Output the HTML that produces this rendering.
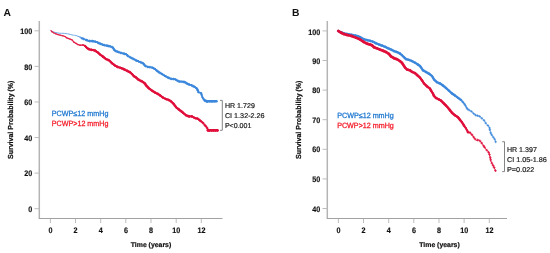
<!DOCTYPE html>
<html><head><meta charset="utf-8"><style>
html,body{margin:0;padding:0;background:#fff;width:550px;height:253px;overflow:hidden}
svg{display:block;will-change:transform}
text{font-family:"Liberation Sans",sans-serif;text-rendering:geometricPrecision}
.tk{font-size:8.0px;font-weight:bold;fill:#111;stroke:#111;stroke-width:0.15px}
.ax{font-size:6.9px;font-weight:bold;fill:#111;stroke:#111;stroke-width:0.2px}
.lab{font-size:10.3px;font-weight:bold;fill:#111}
.lg{font-size:7.6px;stroke-width:0.28px}
.hr{font-size:7.0px;fill:#222;stroke:#222;stroke-width:0.2px}
</style></head><body>
<svg width="550" height="253" viewBox="0 0 550 253">
<line x1="39.3" y1="21" x2="39.3" y2="218" stroke="#b4b4b4" stroke-width="1.5"/>
<line x1="38.6" y1="218.5" x2="222.5" y2="218.5" stroke="#a2a2a2" stroke-width="1.15"/>
<line x1="34.5" y1="30.8" x2="39.5" y2="30.8" stroke="#bdbdbd" stroke-width="1"/>
<text transform="translate(32.2,34.4) scale(0.9,1)" class="tk" text-anchor="end">100</text>
<line x1="34.5" y1="66.38" x2="39.5" y2="66.38" stroke="#bdbdbd" stroke-width="1"/>
<text transform="translate(32.2,69.5) scale(0.9,1)" class="tk" text-anchor="end">80</text>
<line x1="34.5" y1="101.96" x2="39.5" y2="101.96" stroke="#bdbdbd" stroke-width="1"/>
<text transform="translate(32.2,105.1) scale(0.9,1)" class="tk" text-anchor="end">60</text>
<line x1="34.5" y1="137.54" x2="39.5" y2="137.54" stroke="#bdbdbd" stroke-width="1"/>
<text transform="translate(32.2,140.6) scale(0.9,1)" class="tk" text-anchor="end">40</text>
<line x1="34.5" y1="173.12" x2="39.5" y2="173.12" stroke="#bdbdbd" stroke-width="1"/>
<text transform="translate(32.2,176.2) scale(0.9,1)" class="tk" text-anchor="end">20</text>
<line x1="34.5" y1="208.7" x2="39.5" y2="208.7" stroke="#bdbdbd" stroke-width="1"/>
<text transform="translate(32.2,211.8) scale(0.9,1)" class="tk" text-anchor="end">0</text>
<line x1="50.4" y1="219" x2="50.4" y2="223" stroke="#bdbdbd" stroke-width="1"/>
<text transform="translate(50.5,232.7) scale(0.9,1)" class="tk" text-anchor="middle">0</text>
<line x1="75.5" y1="219" x2="75.5" y2="223" stroke="#bdbdbd" stroke-width="1"/>
<text transform="translate(75.6,232.7) scale(0.9,1)" class="tk" text-anchor="middle">2</text>
<line x1="100.7" y1="219" x2="100.7" y2="223" stroke="#bdbdbd" stroke-width="1"/>
<text transform="translate(100.8,232.7) scale(0.9,1)" class="tk" text-anchor="middle">4</text>
<line x1="125.8" y1="219" x2="125.8" y2="223" stroke="#bdbdbd" stroke-width="1"/>
<text transform="translate(125.9,232.7) scale(0.9,1)" class="tk" text-anchor="middle">6</text>
<line x1="151.0" y1="219" x2="151.0" y2="223" stroke="#bdbdbd" stroke-width="1"/>
<text transform="translate(151.1,232.7) scale(0.9,1)" class="tk" text-anchor="middle">8</text>
<line x1="176.2" y1="219" x2="176.2" y2="223" stroke="#bdbdbd" stroke-width="1"/>
<text transform="translate(176.2,232.7) scale(0.9,1)" class="tk" text-anchor="middle">10</text>
<line x1="201.3" y1="219" x2="201.3" y2="223" stroke="#bdbdbd" stroke-width="1"/>
<text transform="translate(201.4,232.7) scale(0.9,1)" class="tk" text-anchor="middle">12</text>
<text x="151.0" y="246.6" class="ax" text-anchor="middle">Time (years)</text>
<text transform="translate(12.600000000000001,119.8) rotate(-90)" text-anchor="middle" class="ax" style="font-size:7.3px" textLength="78.4" lengthAdjust="spacingAndGlyphs">Survival Probability (%)</text>
<text x="3.6" y="15.5" class="lab">A</text>
<line x1="327.3" y1="21" x2="327.3" y2="218" stroke="#b4b4b4" stroke-width="1.5"/>
<line x1="326.6" y1="218.5" x2="507" y2="218.5" stroke="#a2a2a2" stroke-width="1.15"/>
<line x1="322.5" y1="30.9" x2="327.5" y2="30.9" stroke="#bdbdbd" stroke-width="1"/>
<text transform="translate(320.2,34.5) scale(0.9,1)" class="tk" text-anchor="end">100</text>
<line x1="322.5" y1="60.5" x2="327.5" y2="60.5" stroke="#bdbdbd" stroke-width="1"/>
<text transform="translate(320.2,63.6) scale(0.9,1)" class="tk" text-anchor="end">90</text>
<line x1="322.5" y1="90.1" x2="327.5" y2="90.1" stroke="#bdbdbd" stroke-width="1"/>
<text transform="translate(320.2,93.2) scale(0.9,1)" class="tk" text-anchor="end">80</text>
<line x1="322.5" y1="119.7" x2="327.5" y2="119.7" stroke="#bdbdbd" stroke-width="1"/>
<text transform="translate(320.2,122.8) scale(0.9,1)" class="tk" text-anchor="end">70</text>
<line x1="322.5" y1="149.3" x2="327.5" y2="149.3" stroke="#bdbdbd" stroke-width="1"/>
<text transform="translate(320.2,152.4) scale(0.9,1)" class="tk" text-anchor="end">60</text>
<line x1="322.5" y1="178.9" x2="327.5" y2="178.9" stroke="#bdbdbd" stroke-width="1"/>
<text transform="translate(320.2,182.0) scale(0.9,1)" class="tk" text-anchor="end">50</text>
<line x1="322.5" y1="208.5" x2="327.5" y2="208.5" stroke="#bdbdbd" stroke-width="1"/>
<text transform="translate(320.2,211.6) scale(0.9,1)" class="tk" text-anchor="end">40</text>
<line x1="338.4" y1="219" x2="338.4" y2="223" stroke="#bdbdbd" stroke-width="1"/>
<text transform="translate(338.5,232.7) scale(0.9,1)" class="tk" text-anchor="middle">0</text>
<line x1="363.5" y1="219" x2="363.5" y2="223" stroke="#bdbdbd" stroke-width="1"/>
<text transform="translate(363.6,232.7) scale(0.9,1)" class="tk" text-anchor="middle">2</text>
<line x1="388.7" y1="219" x2="388.7" y2="223" stroke="#bdbdbd" stroke-width="1"/>
<text transform="translate(388.8,232.7) scale(0.9,1)" class="tk" text-anchor="middle">4</text>
<line x1="413.8" y1="219" x2="413.8" y2="223" stroke="#bdbdbd" stroke-width="1"/>
<text transform="translate(413.9,232.7) scale(0.9,1)" class="tk" text-anchor="middle">6</text>
<line x1="439.0" y1="219" x2="439.0" y2="223" stroke="#bdbdbd" stroke-width="1"/>
<text transform="translate(439.1,232.7) scale(0.9,1)" class="tk" text-anchor="middle">8</text>
<line x1="464.1" y1="219" x2="464.1" y2="223" stroke="#bdbdbd" stroke-width="1"/>
<text transform="translate(464.2,232.7) scale(0.9,1)" class="tk" text-anchor="middle">10</text>
<line x1="489.3" y1="219" x2="489.3" y2="223" stroke="#bdbdbd" stroke-width="1"/>
<text transform="translate(489.4,232.7) scale(0.9,1)" class="tk" text-anchor="middle">12</text>
<text x="439.5" y="246.6" class="ax" text-anchor="middle">Time (years)</text>
<text transform="translate(300.6,119.8) rotate(-90)" text-anchor="middle" class="ax" style="font-size:7.3px" textLength="78.4" lengthAdjust="spacingAndGlyphs">Survival Probability (%)</text>
<text x="292.0" y="15.5" class="lab">B</text>
<g stroke="#3c88dc" stroke-linecap="round"><line x1="51.0" y1="30.6" x2="52.0" y2="31.4" stroke-width="1.00" stroke-opacity="0.55"/><line x1="52.0" y1="31.4" x2="54.0" y2="32.1" stroke-width="1.00" stroke-opacity="0.55"/><line x1="54.0" y1="32.1" x2="56.0" y2="32.6" stroke-width="1.00" stroke-opacity="0.56"/><line x1="56.0" y1="32.6" x2="58.0" y2="33.0" stroke-width="1.00" stroke-opacity="0.56"/><line x1="58.0" y1="33.0" x2="60.0" y2="33.3" stroke-width="1.00" stroke-opacity="0.56"/><line x1="60.0" y1="33.3" x2="63.0" y2="33.3" stroke-width="1.00" stroke-opacity="0.57"/><line x1="63.0" y1="33.3" x2="66.0" y2="33.6" stroke-width="1.00" stroke-opacity="0.57"/><line x1="66.0" y1="33.6" x2="69.0" y2="34.1" stroke-width="1.00" stroke-opacity="0.58"/><line x1="69.0" y1="34.1" x2="72.0" y2="34.9" stroke-width="1.00" stroke-opacity="0.59"/><line x1="72.0" y1="34.9" x2="76.0" y2="35.5" stroke-width="1.00" stroke-opacity="0.59"/><line x1="76.0" y1="35.5" x2="78.0" y2="36.3" stroke-width="1.00" stroke-opacity="0.60"/><line x1="78.0" y1="36.3" x2="80.0" y2="37.1" stroke-width="1.09" stroke-opacity="0.65"/><line x1="80.0" y1="37.1" x2="82.0" y2="38.3" stroke-width="1.26" stroke-opacity="0.75"/><line x1="82.0" y1="38.3" x2="86.0" y2="39.9" stroke-width="1.52" stroke-opacity="0.90"/><line x1="86.0" y1="39.9" x2="89.0" y2="41.0" stroke-width="1.70"/><line x1="89.0" y1="41.0" x2="93.0" y2="41.2" stroke-width="1.70"/><line x1="93.0" y1="41.2" x2="96.0" y2="41.8" stroke-width="1.70"/><line x1="96.0" y1="41.8" x2="100.0" y2="43.6" stroke-width="1.70"/><line x1="100.0" y1="43.6" x2="103.8" y2="45.1" stroke-width="1.70"/><line x1="103.8" y1="45.1" x2="106.0" y2="45.5" stroke-width="1.70"/><line x1="106.0" y1="45.5" x2="110.0" y2="46.3" stroke-width="1.70"/><line x1="110.0" y1="46.3" x2="113.0" y2="47.6" stroke-width="1.70"/><line x1="113.0" y1="47.6" x2="114.5" y2="50.4" stroke-width="1.70"/><line x1="114.5" y1="50.4" x2="117.0" y2="51.6" stroke-width="1.70"/><line x1="117.0" y1="51.6" x2="121.0" y2="52.9" stroke-width="1.70"/><line x1="121.0" y1="52.9" x2="124.0" y2="53.7" stroke-width="1.70"/><line x1="124.0" y1="53.7" x2="126.0" y2="54.1" stroke-width="1.70"/><line x1="126.0" y1="54.1" x2="128.0" y2="56.1" stroke-width="1.70"/><line x1="128.0" y1="56.1" x2="131.0" y2="57.7" stroke-width="1.70"/><line x1="131.0" y1="57.7" x2="134.0" y2="59.3" stroke-width="1.70"/><line x1="134.0" y1="59.3" x2="137.0" y2="60.8" stroke-width="1.70"/><line x1="137.0" y1="60.8" x2="140.0" y2="62.0" stroke-width="1.70"/><line x1="140.0" y1="62.0" x2="143.0" y2="63.2" stroke-width="1.70"/><line x1="143.0" y1="63.2" x2="145.0" y2="65.8" stroke-width="1.70"/><line x1="145.0" y1="65.8" x2="148.0" y2="67.0" stroke-width="1.70"/><line x1="148.0" y1="67.0" x2="151.0" y2="67.3" stroke-width="1.70"/><line x1="151.0" y1="67.3" x2="153.0" y2="67.9" stroke-width="1.70"/><line x1="153.0" y1="67.9" x2="155.0" y2="69.0" stroke-width="1.70"/><line x1="155.0" y1="69.0" x2="157.0" y2="70.8" stroke-width="1.70"/><line x1="157.0" y1="70.8" x2="159.0" y2="72.3" stroke-width="1.70"/><line x1="159.0" y1="72.3" x2="162.0" y2="74.1" stroke-width="1.70"/><line x1="162.0" y1="74.1" x2="165.0" y2="75.9" stroke-width="1.70"/><line x1="165.0" y1="75.9" x2="168.0" y2="77.6" stroke-width="1.70"/><line x1="168.0" y1="77.6" x2="171.0" y2="78.8" stroke-width="1.70"/><line x1="171.0" y1="78.8" x2="175.0" y2="79.2" stroke-width="1.70"/><line x1="175.0" y1="79.2" x2="177.0" y2="80.4" stroke-width="1.70"/><line x1="177.0" y1="80.4" x2="179.0" y2="81.5" stroke-width="1.70"/><line x1="179.0" y1="81.5" x2="182.0" y2="81.6" stroke-width="1.70"/><line x1="182.0" y1="81.6" x2="185.0" y2="82.2" stroke-width="1.70"/><line x1="185.0" y1="82.2" x2="188.0" y2="84.2" stroke-width="1.70"/><line x1="188.0" y1="84.2" x2="191.0" y2="85.0" stroke-width="1.70"/><line x1="191.0" y1="85.0" x2="194.0" y2="86.6" stroke-width="1.70"/><line x1="194.0" y1="86.6" x2="197.0" y2="88.5" stroke-width="1.70"/><line x1="197.0" y1="88.5" x2="198.5" y2="92.2" stroke-width="1.70"/><line x1="198.5" y1="92.2" x2="201.0" y2="93.0" stroke-width="1.56"/><line x1="201.0" y1="93.0" x2="202.0" y2="95.9" stroke-width="1.42"/><line x1="202.0" y1="95.9" x2="203.0" y2="98.5" stroke-width="1.34"/><line x1="203.0" y1="98.5" x2="205.0" y2="100.7" stroke-width="1.82"/><line x1="205.0" y1="100.7" x2="207.0" y2="101.3" stroke-width="2.60"/><line x1="207.0" y1="101.3" x2="216.5" y2="101.3" stroke-width="2.60"/></g>
<g stroke-opacity="1.0" stroke="#3c88dc" stroke-width="1.0"><path d="M82.0 37.0V39.7M80.7 38.3H83.4"/><path d="M83.6 37.6V40.3M82.3 38.9H85.0"/><path d="M86.1 38.6V41.3M84.7 39.9H87.4"/><path d="M87.2 39.0V41.7M85.8 40.3H88.5"/><path d="M89.5 39.7V42.4M88.2 41.0H90.9"/><path d="M91.1 39.8V42.5M89.7 41.1H92.4"/><path d="M92.5 39.8V42.5M91.1 41.2H93.8"/><path d="M93.8 40.0V42.7M92.4 41.4H95.1"/><path d="M95.3 40.3V43.0M94.0 41.7H96.7"/><path d="M97.6 41.1V43.8M96.2 42.5H98.9"/><path d="M98.8 41.7V44.4M97.5 43.1H100.2"/><path d="M100.7 42.5V45.2M99.4 43.9H102.1"/><path d="M102.7 43.3V46.0M101.3 44.7H104.0"/><path d="M104.3 43.8V46.5M102.9 45.2H105.6"/><path d="M106.2 44.2V46.9M104.9 45.5H107.6"/><path d="M107.4 44.4V47.1M106.1 45.8H108.8"/><path d="M108.6 44.7V47.4M107.3 46.0H110.0"/><path d="M110.1 45.0V47.7M108.7 46.3H111.4"/><path d="M112.1 45.8V48.5M110.7 47.2H113.4"/><path d="M113.4 46.9V49.6M112.0 48.3H114.7"/><path d="M114.1 48.3V51.0M112.8 49.7H115.5"/><path d="M115.6 49.6V52.3M114.3 50.9H117.0"/><path d="M117.3 50.3V53.0M115.9 51.7H118.6"/><path d="M118.8 50.8V53.5M117.4 52.2H120.1"/><path d="M121.0 51.6V54.3M119.7 52.9H122.4"/><path d="M123.2 52.1V54.8M121.8 53.5H124.5"/><path d="M124.6 52.5V55.2M123.3 53.8H126.0"/><path d="M126.4 53.2V55.9M125.1 54.5H127.8"/><path d="M127.8 54.5V57.2M126.4 55.9H129.1"/><path d="M129.9 55.8V58.5M128.6 57.1H131.3"/><path d="M131.9 56.8V59.5M130.6 58.2H133.3"/><path d="M133.3 57.6V60.3M132.0 58.9H134.7"/><path d="M135.6 58.8V61.5M134.3 60.1H137.0"/><path d="M136.8 59.4V62.1M135.5 60.7H138.2"/><path d="M138.5 60.0V62.7M137.1 61.4H139.8"/><path d="M140.6 60.9V63.6M139.2 62.2H141.9"/><path d="M141.9 61.4V64.1M140.5 62.7H143.2"/><path d="M143.4 62.4V65.1M142.1 63.7H144.8"/><path d="M144.1 63.3V66.0M142.8 64.7H145.5"/><path d="M145.7 64.7V67.4M144.3 66.1H147.0"/><path d="M147.8 65.6V68.3M146.5 66.9H149.2"/><path d="M149.8 65.8V68.5M148.5 67.2H151.2"/><path d="M152.2 66.3V69.0M150.9 67.7H153.6"/><path d="M153.7 66.9V69.6M152.4 68.3H155.1"/><path d="M155.5 68.1V70.8M154.2 69.5H156.9"/><path d="M157.1 69.5V72.2M155.7 70.8H158.4"/><path d="M158.7 70.7V73.4M157.3 72.1H160.0"/><path d="M160.2 71.7V74.4M158.9 73.0H161.6"/><path d="M162.3 72.9V75.6M160.9 74.3H163.6"/><path d="M164.5 74.3V77.0M163.2 75.6H165.9"/><path d="M166.1 75.2V77.9M164.8 76.5H167.5"/><path d="M168.0 76.2V78.9M166.6 77.6H169.3"/><path d="M169.1 76.7V79.4M167.8 78.1H170.5"/><path d="M171.2 77.5V80.2M169.8 78.8H172.5"/><path d="M173.3 77.7V80.4M172.0 79.0H174.7"/><path d="M175.8 78.3V81.0M174.5 79.7H177.2"/><path d="M177.9 79.5V82.2M176.5 80.9H179.2"/><path d="M179.3 80.2V82.9M177.9 81.5H180.6"/><path d="M181.0 80.2V82.9M179.7 81.6H182.4"/><path d="M183.2 80.5V83.2M181.8 81.8H184.5"/><path d="M184.3 80.7V83.4M183.0 82.1H185.7"/><path d="M185.9 81.5V84.2M184.6 82.8H187.3"/><path d="M187.1 82.3V85.0M185.8 83.6H188.5"/><path d="M188.2 82.9V85.6M186.9 84.3H189.6"/><path d="M189.4 83.2V85.9M188.1 84.6H190.8"/><path d="M191.6 84.0V86.7M190.2 85.3H192.9"/><path d="M192.8 84.6V87.3M191.4 85.9H194.1"/><path d="M194.1 85.3V88.0M192.8 86.7H195.5"/><path d="M195.6 86.2V88.9M194.2 87.6H196.9"/><path d="M197.3 87.9V90.6M195.9 89.2H198.6"/><path d="M197.8 89.0V91.7M196.4 90.4H199.1"/><path d="M198.4 90.7V93.4M197.1 92.1H199.8"/><path d="M201.1 91.9V94.6M199.7 93.3H202.4"/><path d="M201.7 93.6V96.3M200.3 94.9H203.0"/><path d="M202.5 96.0V98.7M201.2 97.3H203.9"/><path d="M204.2 98.4V101.1M202.8 99.8H205.5"/><path d="M206.7 99.9V102.6M205.3 101.2H208.0"/><path d="M207.8 100.0V102.6M206.5 101.3H209.2"/><path d="M209.9 100.0V102.6M208.5 101.3H211.2"/><path d="M211.3 100.0V102.6M209.9 101.3H212.6"/><path d="M212.7 100.0V102.6M211.4 101.3H214.1"/><path d="M214.8 100.0V102.6M213.5 101.3H216.2"/></g>
<g stroke="#e0103c" stroke-linecap="round"><line x1="51.0" y1="30.6" x2="52.0" y2="31.7" stroke-width="1.30" stroke-opacity="0.85"/><line x1="52.0" y1="31.7" x2="54.0" y2="33.0" stroke-width="1.30" stroke-opacity="0.85"/><line x1="54.0" y1="33.0" x2="56.0" y2="33.9" stroke-width="1.30" stroke-opacity="0.86"/><line x1="56.0" y1="33.9" x2="58.0" y2="34.6" stroke-width="1.30" stroke-opacity="0.86"/><line x1="58.0" y1="34.6" x2="60.0" y2="35.1" stroke-width="1.30" stroke-opacity="0.86"/><line x1="60.0" y1="35.1" x2="63.0" y2="35.8" stroke-width="1.30" stroke-opacity="0.87"/><line x1="63.0" y1="35.8" x2="65.0" y2="36.5" stroke-width="1.30" stroke-opacity="0.87"/><line x1="65.0" y1="36.5" x2="66.5" y2="37.7" stroke-width="1.30" stroke-opacity="0.88"/><line x1="66.5" y1="37.7" x2="68.0" y2="38.4" stroke-width="1.30" stroke-opacity="0.88"/><line x1="68.0" y1="38.4" x2="70.0" y2="39.1" stroke-width="1.30" stroke-opacity="0.88"/><line x1="70.0" y1="39.1" x2="72.0" y2="39.9" stroke-width="1.30" stroke-opacity="0.88"/><line x1="72.0" y1="39.9" x2="74.0" y2="42.2" stroke-width="1.30" stroke-opacity="0.89"/><line x1="74.0" y1="42.2" x2="76.0" y2="43.4" stroke-width="1.30" stroke-opacity="0.89"/><line x1="76.0" y1="43.4" x2="78.0" y2="44.6" stroke-width="1.30" stroke-opacity="0.89"/><line x1="78.0" y1="44.6" x2="80.0" y2="45.2" stroke-width="1.30" stroke-opacity="0.90"/><line x1="80.0" y1="45.2" x2="83.0" y2="45.0" stroke-width="1.45" stroke-opacity="0.92"/><line x1="83.0" y1="45.0" x2="85.0" y2="45.8" stroke-width="1.70" stroke-opacity="0.95"/><line x1="85.0" y1="45.8" x2="87.0" y2="48.0" stroke-width="1.90" stroke-opacity="0.97"/><line x1="87.0" y1="48.0" x2="89.0" y2="49.2" stroke-width="2.10"/><line x1="89.0" y1="49.2" x2="91.0" y2="49.8" stroke-width="2.10"/><line x1="91.0" y1="49.8" x2="93.0" y2="50.0" stroke-width="2.10"/><line x1="93.0" y1="50.0" x2="95.0" y2="50.6" stroke-width="2.10"/><line x1="95.0" y1="50.6" x2="98.0" y2="52.6" stroke-width="2.10"/><line x1="98.0" y1="52.6" x2="100.0" y2="54.5" stroke-width="2.10"/><line x1="100.0" y1="54.5" x2="103.0" y2="56.6" stroke-width="2.10"/><line x1="103.0" y1="56.6" x2="106.0" y2="59.1" stroke-width="2.10"/><line x1="106.0" y1="59.1" x2="109.0" y2="60.3" stroke-width="2.10"/><line x1="109.0" y1="60.3" x2="112.0" y2="63.2" stroke-width="2.10"/><line x1="112.0" y1="63.2" x2="115.0" y2="65.5" stroke-width="2.10"/><line x1="115.0" y1="65.5" x2="118.0" y2="67.1" stroke-width="2.10"/><line x1="118.0" y1="67.1" x2="121.0" y2="68.0" stroke-width="2.10"/><line x1="121.0" y1="68.0" x2="124.0" y2="69.3" stroke-width="2.10"/><line x1="124.0" y1="69.3" x2="127.0" y2="70.8" stroke-width="2.10"/><line x1="127.0" y1="70.8" x2="130.0" y2="72.3" stroke-width="2.10"/><line x1="130.0" y1="72.3" x2="132.0" y2="74.0" stroke-width="2.10"/><line x1="132.0" y1="74.0" x2="134.0" y2="76.4" stroke-width="2.10"/><line x1="134.0" y1="76.4" x2="136.0" y2="77.4" stroke-width="2.10"/><line x1="136.0" y1="77.4" x2="138.0" y2="79.3" stroke-width="2.10"/><line x1="138.0" y1="79.3" x2="141.0" y2="81.0" stroke-width="2.10"/><line x1="141.0" y1="81.0" x2="143.0" y2="82.0" stroke-width="2.10"/><line x1="143.0" y1="82.0" x2="145.0" y2="83.6" stroke-width="2.10"/><line x1="145.0" y1="83.6" x2="146.0" y2="85.3" stroke-width="2.10"/><line x1="146.0" y1="85.3" x2="149.0" y2="88.4" stroke-width="2.10"/><line x1="149.0" y1="88.4" x2="152.0" y2="90.6" stroke-width="2.10"/><line x1="152.0" y1="90.6" x2="155.0" y2="92.5" stroke-width="2.10"/><line x1="155.0" y1="92.5" x2="158.0" y2="94.0" stroke-width="2.10"/><line x1="158.0" y1="94.0" x2="160.0" y2="95.3" stroke-width="2.10"/><line x1="160.0" y1="95.3" x2="163.0" y2="97.6" stroke-width="2.10"/><line x1="163.0" y1="97.6" x2="166.0" y2="99.1" stroke-width="2.10"/><line x1="166.0" y1="99.1" x2="169.0" y2="100.1" stroke-width="2.10"/><line x1="169.0" y1="100.1" x2="171.0" y2="101.3" stroke-width="2.10"/><line x1="171.0" y1="101.3" x2="174.0" y2="104.3" stroke-width="2.10"/><line x1="174.0" y1="104.3" x2="176.0" y2="107.2" stroke-width="2.10"/><line x1="176.0" y1="107.2" x2="179.0" y2="109.6" stroke-width="2.10"/><line x1="179.0" y1="109.6" x2="182.0" y2="111.8" stroke-width="2.10"/><line x1="182.0" y1="111.8" x2="183.0" y2="112.8" stroke-width="2.10"/><line x1="183.0" y1="112.8" x2="186.0" y2="115.3" stroke-width="2.10"/><line x1="186.0" y1="115.3" x2="189.0" y2="116.4" stroke-width="2.10"/><line x1="189.0" y1="116.4" x2="192.0" y2="116.4" stroke-width="2.10"/><line x1="192.0" y1="116.4" x2="195.0" y2="118.1" stroke-width="2.10"/><line x1="195.0" y1="118.1" x2="198.0" y2="118.8" stroke-width="2.10"/><line x1="198.0" y1="118.8" x2="200.0" y2="120.5" stroke-width="1.97"/><line x1="200.0" y1="120.5" x2="203.0" y2="122.9" stroke-width="1.63"/><line x1="203.0" y1="122.9" x2="205.0" y2="125.3" stroke-width="1.30"/><line x1="205.0" y1="125.3" x2="207.0" y2="127.6" stroke-width="1.30"/><line x1="207.0" y1="127.6" x2="208.0" y2="130.4" stroke-width="1.30"/><line x1="208.0" y1="130.4" x2="217.5" y2="130.4" stroke-width="2.60"/></g>
<g stroke-opacity="1.0" stroke="#e0103c" stroke-width="1.0"><path d="M85.5 45.0V47.7M84.2 46.4H86.9"/><path d="M86.6 46.2V48.9M85.2 47.5H87.9"/><path d="M87.6 47.0V49.7M86.2 48.4H88.9"/><path d="M89.1 47.9V50.6M87.8 49.2H90.5"/><path d="M91.6 48.5V51.2M90.2 49.9H92.9"/><path d="M93.9 48.9V51.6M92.6 50.3H95.3"/><path d="M95.3 49.5V52.2M94.0 50.8H96.7"/><path d="M96.5 50.2V52.9M95.1 51.6H97.8"/><path d="M98.5 51.7V54.4M97.2 53.1H99.9"/><path d="M100.0 53.1V55.8M98.6 54.5H101.3"/><path d="M101.8 54.4V57.1M100.4 55.7H103.1"/><path d="M102.8 55.1V57.8M101.5 56.5H104.2"/><path d="M103.8 55.9V58.6M102.4 57.2H105.1"/><path d="M105.4 57.3V60.0M104.1 58.6H106.8"/><path d="M107.0 58.1V60.8M105.6 59.5H108.3"/><path d="M108.1 58.6V61.3M106.8 60.0H109.5"/><path d="M110.2 60.1V62.8M108.8 61.4H111.5"/><path d="M111.7 61.6V64.3M110.3 62.9H113.0"/><path d="M113.5 63.0V65.7M112.2 64.4H114.9"/><path d="M114.5 63.8V66.5M113.2 65.2H115.9"/><path d="M116.6 65.0V67.7M115.3 66.4H118.0"/><path d="M117.7 65.6V68.3M116.4 67.0H119.1"/><path d="M120.1 66.4V69.1M118.7 67.7H121.4"/><path d="M121.8 67.0V69.7M120.4 68.3H123.1"/><path d="M123.3 67.6V70.3M122.0 69.0H124.7"/><path d="M125.1 68.5V71.2M123.7 69.8H126.4"/><path d="M127.4 69.6V72.3M126.0 71.0H128.7"/><path d="M128.8 70.3V73.0M127.4 71.7H130.1"/><path d="M130.0 70.9V73.6M128.6 72.3H131.3"/><path d="M131.4 72.2V74.9M130.1 73.5H132.8"/><path d="M132.5 73.2V75.9M131.1 74.6H133.8"/><path d="M133.3 74.2V76.9M132.0 75.6H134.7"/><path d="M134.3 75.2V77.9M132.9 76.5H135.6"/><path d="M135.4 75.7V78.4M134.0 77.1H136.7"/><path d="M136.6 76.6V79.3M135.2 77.9H137.9"/><path d="M137.7 77.7V80.4M136.4 79.0H139.1"/><path d="M139.1 78.6V81.3M137.7 79.9H140.4"/><path d="M141.1 79.7V82.4M139.7 81.0H142.4"/><path d="M142.5 80.4V83.1M141.1 81.7H143.8"/><path d="M144.0 81.5V84.2M142.7 82.8H145.4"/><path d="M145.1 82.4V85.1M143.7 83.7H146.4"/><path d="M145.9 83.8V86.5M144.6 85.2H147.3"/><path d="M146.7 84.7V87.4M145.4 86.0H148.1"/><path d="M147.8 85.8V88.5M146.4 87.1H149.1"/><path d="M148.6 86.6V89.3M147.2 88.0H149.9"/><path d="M150.3 88.0V90.7M149.0 89.4H151.7"/><path d="M151.9 89.2V91.9M150.6 90.5H153.3"/><path d="M153.1 90.0V92.7M151.8 91.3H154.5"/><path d="M154.7 91.0V93.7M153.3 92.3H156.0"/><path d="M157.0 92.1V94.8M155.6 93.5H158.3"/><path d="M158.1 92.7V95.4M156.8 94.1H159.5"/><path d="M160.1 94.0V96.7M158.8 95.4H161.5"/><path d="M161.5 95.1V97.8M160.2 96.5H162.9"/><path d="M163.1 96.3V99.0M161.7 97.6H164.4"/><path d="M165.2 97.4V100.1M163.9 98.7H166.6"/><path d="M166.8 98.0V100.7M165.5 99.4H168.2"/><path d="M168.6 98.6V101.3M167.3 100.0H170.0"/><path d="M170.5 99.7V102.4M169.2 101.0H171.9"/><path d="M172.5 101.4V104.1M171.1 102.8H173.8"/><path d="M173.7 102.6V105.3M172.3 104.0H175.0"/><path d="M175.1 104.5V107.2M173.7 105.9H176.4"/><path d="M176.5 106.2V108.9M175.1 107.6H177.8"/><path d="M178.1 107.5V110.2M176.8 108.9H179.5"/><path d="M179.5 108.6V111.3M178.2 110.0H180.9"/><path d="M180.8 109.6V112.3M179.5 111.0H182.2"/><path d="M181.8 110.3V113.0M180.5 111.7H183.2"/><path d="M182.8 111.2V113.9M181.4 112.6H184.1"/><path d="M183.7 112.1V114.8M182.4 113.4H185.1"/><path d="M185.5 113.5V116.2M184.1 114.9H186.8"/><path d="M186.8 114.2V116.9M185.5 115.6H188.2"/><path d="M188.1 114.7V117.4M186.8 116.1H189.5"/><path d="M189.3 115.1V117.8M188.0 116.4H190.7"/><path d="M191.7 115.1V117.8M190.4 116.4H193.1"/><path d="M193.9 116.1V118.8M192.6 117.5H195.3"/><path d="M195.9 117.0V119.7M194.5 118.3H197.2"/><path d="M197.4 117.3V120.0M196.1 118.7H198.8"/><path d="M198.7 118.0V120.7M197.3 119.4H200.0"/><path d="M199.9 119.1V121.8M198.5 120.4H201.2"/><path d="M201.2 120.1V122.8M199.9 121.5H202.6"/><path d="M203.2 121.8V124.5M201.8 123.1H204.5"/><path d="M204.8 123.7V126.4M203.4 125.1H206.1"/><path d="M206.0 125.1V127.8M204.6 126.4H207.3"/><path d="M207.2 126.9V129.6M205.9 128.2H208.6"/><path d="M208.0 128.9V131.6M206.6 130.3H209.3"/><path d="M208.2 129.1V131.8M206.8 130.4H209.5"/><path d="M209.5 129.1V131.8M208.2 130.4H210.9"/><path d="M211.6 129.1V131.8M210.2 130.4H212.9"/><path d="M213.4 129.1V131.8M212.1 130.4H214.8"/><path d="M215.4 129.1V131.8M214.0 130.4H216.7"/><path d="M217.4 129.1V131.8M216.1 130.4H218.8"/></g>
<g stroke="#3c88dc" stroke-linecap="round"><line x1="338.3" y1="31.0" x2="341.0" y2="32.4" stroke-width="2.20"/><line x1="341.0" y1="32.4" x2="344.0" y2="33.4" stroke-width="2.20"/><line x1="344.0" y1="33.4" x2="347.8" y2="34.1" stroke-width="2.20"/><line x1="347.8" y1="34.1" x2="352.0" y2="34.9" stroke-width="2.20"/><line x1="352.0" y1="34.9" x2="355.7" y2="35.6" stroke-width="2.20"/><line x1="355.7" y1="35.6" x2="359.7" y2="36.9" stroke-width="2.20"/><line x1="359.7" y1="36.9" x2="364.0" y2="39.3" stroke-width="2.20"/><line x1="364.0" y1="39.3" x2="367.0" y2="40.1" stroke-width="2.20"/><line x1="367.0" y1="40.1" x2="370.0" y2="40.8" stroke-width="2.20"/><line x1="370.0" y1="40.8" x2="373.0" y2="41.7" stroke-width="2.20"/><line x1="373.0" y1="41.7" x2="376.0" y2="43.3" stroke-width="2.20"/><line x1="376.0" y1="43.3" x2="379.0" y2="44.5" stroke-width="2.20"/><line x1="379.0" y1="44.5" x2="382.0" y2="45.6" stroke-width="2.20"/><line x1="382.0" y1="45.6" x2="385.0" y2="46.8" stroke-width="2.20"/><line x1="385.0" y1="46.8" x2="388.0" y2="48.2" stroke-width="2.20"/><line x1="388.0" y1="48.2" x2="391.0" y2="49.6" stroke-width="2.20"/><line x1="391.0" y1="49.6" x2="394.0" y2="51.1" stroke-width="2.20"/><line x1="394.0" y1="51.1" x2="397.0" y2="52.1" stroke-width="2.20"/><line x1="397.0" y1="52.1" x2="400.0" y2="53.6" stroke-width="2.20"/><line x1="400.0" y1="53.6" x2="402.0" y2="55.2" stroke-width="2.20"/><line x1="402.0" y1="55.2" x2="404.0" y2="57.2" stroke-width="2.20"/><line x1="404.0" y1="57.2" x2="406.0" y2="59.1" stroke-width="2.20"/><line x1="406.0" y1="59.1" x2="409.0" y2="59.9" stroke-width="2.20"/><line x1="409.0" y1="59.9" x2="412.0" y2="61.1" stroke-width="2.20"/><line x1="412.0" y1="61.1" x2="415.0" y2="62.7" stroke-width="2.20"/><line x1="415.0" y1="62.7" x2="418.0" y2="64.7" stroke-width="2.20"/><line x1="418.0" y1="64.7" x2="420.0" y2="66.0" stroke-width="2.20"/><line x1="420.0" y1="66.0" x2="423.0" y2="70.3" stroke-width="2.20"/><line x1="423.0" y1="70.3" x2="426.0" y2="72.0" stroke-width="2.20"/><line x1="426.0" y1="72.0" x2="429.0" y2="73.7" stroke-width="2.20"/><line x1="429.0" y1="73.7" x2="432.0" y2="76.0" stroke-width="2.20"/><line x1="432.0" y1="76.0" x2="434.0" y2="79.5" stroke-width="2.20"/><line x1="434.0" y1="79.5" x2="437.0" y2="82.3" stroke-width="2.20"/><line x1="437.0" y1="82.3" x2="440.0" y2="83.5" stroke-width="2.20"/><line x1="440.0" y1="83.5" x2="443.0" y2="85.5" stroke-width="2.20"/><line x1="443.0" y1="85.5" x2="446.0" y2="88.0" stroke-width="2.20"/><line x1="446.0" y1="88.0" x2="449.0" y2="90.7" stroke-width="2.20"/><line x1="449.0" y1="90.7" x2="452.0" y2="93.5" stroke-width="2.20"/><line x1="452.0" y1="93.5" x2="455.0" y2="95.5" stroke-width="2.20"/><line x1="455.0" y1="95.5" x2="458.0" y2="97.8" stroke-width="2.06"/><line x1="458.0" y1="97.8" x2="461.0" y2="99.9" stroke-width="1.78"/><line x1="461.0" y1="99.9" x2="463.0" y2="102.3" stroke-width="1.55" stroke-opacity="0.94"/><line x1="463.0" y1="102.3" x2="465.0" y2="104.7" stroke-width="1.37" stroke-opacity="0.88"/><line x1="465.0" y1="104.7" x2="467.0" y2="108.6" stroke-width="1.18" stroke-opacity="0.81"/><line x1="467.0" y1="108.6" x2="469.0" y2="110.0" stroke-width="1.00" stroke-opacity="0.75"/><line x1="469.0" y1="110.0" x2="472.0" y2="111.8" stroke-width="1.00" stroke-opacity="0.75"/><line x1="472.0" y1="111.8" x2="474.0" y2="114.0" stroke-width="1.00" stroke-opacity="0.75"/><line x1="474.0" y1="114.0" x2="476.0" y2="115.4" stroke-width="1.00" stroke-opacity="0.75"/><line x1="476.0" y1="115.4" x2="479.0" y2="116.0" stroke-width="1.00" stroke-opacity="0.75"/><line x1="479.0" y1="116.0" x2="481.0" y2="117.5" stroke-width="1.00" stroke-opacity="0.75"/><line x1="481.0" y1="117.5" x2="484.0" y2="120.3" stroke-width="1.00" stroke-opacity="0.75"/><line x1="484.0" y1="120.3" x2="486.0" y2="123.5" stroke-width="1.00" stroke-opacity="0.75"/><line x1="486.0" y1="123.5" x2="488.0" y2="125.6" stroke-width="1.00" stroke-opacity="0.75"/><line x1="488.0" y1="125.6" x2="489.5" y2="127.8" stroke-width="1.00" stroke-opacity="0.75"/><line x1="489.5" y1="127.8" x2="490.0" y2="130.5" stroke-width="1.00" stroke-opacity="0.75"/><line x1="490.0" y1="130.5" x2="491.0" y2="133.7" stroke-width="1.00" stroke-opacity="0.75"/><line x1="491.0" y1="133.7" x2="492.0" y2="135.3" stroke-width="1.00" stroke-opacity="0.75"/><line x1="492.0" y1="135.3" x2="493.5" y2="137.6" stroke-width="1.00" stroke-opacity="0.75"/><line x1="493.5" y1="137.6" x2="495.0" y2="139.6" stroke-width="1.00" stroke-opacity="0.75"/><line x1="495.0" y1="139.6" x2="495.7" y2="142.0" stroke-width="1.00" stroke-opacity="0.75"/></g>
<g stroke-opacity="0.7" stroke="#3c88dc" stroke-width="1.0"><path d="M338.3 29.6V32.4M336.9 31.0H339.7"/><path d="M339.5 30.3V33.0M338.1 31.6H340.8"/><path d="M340.7 30.9V33.6M339.3 32.2H342.0"/><path d="M342.5 31.5V34.2M341.1 32.9H343.8"/><path d="M344.6 32.2V34.9M343.2 33.5H345.9"/><path d="M347.1 32.6V35.3M345.8 34.0H348.5"/><path d="M349.3 33.0V35.7M348.0 34.4H350.7"/><path d="M351.4 33.4V36.1M350.0 34.8H352.7"/><path d="M353.7 33.9V36.6M352.3 35.2H355.0"/><path d="M355.5 34.2V36.9M354.1 35.6H356.8"/><path d="M357.3 34.8V37.5M356.0 36.1H358.7"/><path d="M358.5 35.2V37.9M357.1 36.5H359.8"/><path d="M360.6 36.1V38.8M359.3 37.4H362.0"/><path d="M361.9 36.8V39.5M360.6 38.1H363.3"/><path d="M364.2 38.0V40.7M362.8 39.3H365.5"/><path d="M366.2 38.5V41.2M364.9 39.9H367.6"/><path d="M367.8 38.9V41.6M366.4 40.3H369.1"/><path d="M369.1 39.2V41.9M367.7 40.6H370.4"/><path d="M370.5 39.6V42.3M369.2 41.0H371.9"/><path d="M372.6 40.2V42.9M371.2 41.6H373.9"/><path d="M374.5 41.2V43.9M373.2 42.5H375.9"/><path d="M375.7 41.8V44.5M374.3 43.1H377.0"/><path d="M376.8 42.3V45.0M375.5 43.6H378.2"/><path d="M378.6 43.0V45.7M377.3 44.3H380.0"/><path d="M380.5 43.7V46.4M379.2 45.1H381.9"/><path d="M382.1 44.3V47.0M380.8 45.7H383.5"/><path d="M383.5 44.9V47.6M382.2 46.2H384.9"/><path d="M385.4 45.6V48.3M384.1 47.0H386.8"/><path d="M386.5 46.1V48.8M385.1 47.5H387.8"/><path d="M387.9 46.8V49.5M386.6 48.2H389.3"/><path d="M389.6 47.6V50.3M388.2 49.0H390.9"/><path d="M391.9 48.7V51.4M390.6 50.1H393.3"/><path d="M393.8 49.6V52.3M392.5 51.0H395.2"/><path d="M396.2 50.4V53.1M394.8 51.8H397.5"/><path d="M397.9 51.2V53.9M396.5 52.5H399.2"/><path d="M399.2 51.9V54.6M397.9 53.2H400.6"/><path d="M400.5 52.6V55.3M399.1 54.0H401.8"/><path d="M402.5 54.3V57.0M401.1 55.7H403.8"/><path d="M404.0 55.9V58.6M402.7 57.2H405.4"/><path d="M405.2 57.0V59.7M403.9 58.3H406.6"/><path d="M406.1 57.8V60.5M404.7 59.1H407.4"/><path d="M407.9 58.3V61.0M406.6 59.6H409.3"/><path d="M410.0 58.9V61.6M408.6 60.3H411.3"/><path d="M411.6 59.6V62.3M410.3 60.9H413.0"/><path d="M413.0 60.3V63.0M411.6 61.6H414.3"/><path d="M414.9 61.3V64.0M413.5 62.6H416.2"/><path d="M417.0 62.7V65.4M415.7 64.0H418.4"/><path d="M418.3 63.5V66.2M416.9 64.9H419.6"/><path d="M419.3 64.2V66.9M417.9 65.5H420.6"/><path d="M420.4 65.3V68.0M419.1 66.6H421.8"/><path d="M421.5 66.7V69.4M420.1 68.1H422.8"/><path d="M422.7 68.5V71.2M421.3 69.9H424.0"/><path d="M423.8 69.4V72.1M422.4 70.8H425.1"/><path d="M425.8 70.6V73.3M424.5 71.9H427.2"/><path d="M427.8 71.7V74.4M426.5 73.0H429.2"/><path d="M429.4 72.7V75.4M428.1 74.0H430.8"/><path d="M430.6 73.6V76.3M429.2 74.9H431.9"/><path d="M432.4 75.4V78.1M431.1 76.7H433.8"/><path d="M433.2 76.8V79.5M431.9 78.1H434.6"/><path d="M434.6 78.7V81.4M433.2 80.0H435.9"/><path d="M435.7 79.7V82.4M434.3 81.1H437.0"/><path d="M436.8 80.7V83.4M435.4 82.1H438.1"/><path d="M438.8 81.7V84.4M437.5 83.0H440.2"/><path d="M440.3 82.3V85.0M438.9 83.7H441.6"/><path d="M442.4 83.8V86.5M441.1 85.1H443.8"/><path d="M443.9 84.9V87.6M442.6 86.3H445.3"/><path d="M445.0 85.8V88.5M443.7 87.2H446.4"/><path d="M446.1 86.8V89.5M444.8 88.1H447.5"/><path d="M447.5 88.0V90.7M446.1 89.3H448.8"/><path d="M449.1 89.4V92.1M447.7 90.8H450.4"/><path d="M450.9 91.2V93.9M449.6 92.5H452.3"/><path d="M451.9 92.1V94.8M450.6 93.4H453.3"/><path d="M453.4 93.1V95.8M452.0 94.4H454.7"/><path d="M454.6 93.9V96.6M453.2 95.2H455.9"/><path d="M456.7 95.4V98.1M455.3 96.8H458.0"/><path d="M457.8 96.3V99.0M456.4 97.6H459.1"/><path d="M458.8 97.0V99.7M457.4 98.3H460.1"/><path d="M459.8 97.7V100.4M458.4 99.0H461.1"/><path d="M461.2 98.7V101.4M459.8 100.1H462.5"/><path d="M462.8 100.7V103.4M461.4 102.0H464.1"/><path d="M464.3 102.6V105.3M463.0 103.9H465.7"/><path d="M465.6 104.4V107.1M464.2 105.8H466.9"/><path d="M466.6 106.5V109.2M465.3 107.8H468.0"/><path d="M467.7 107.8V110.5M466.4 109.1H469.1"/><path d="M469.2 108.8V111.5M467.8 110.1H470.5"/><path d="M471.4 110.1V112.8M470.1 111.4H472.8"/><path d="M473.6 112.2V114.9M472.2 113.5H474.9"/><path d="M475.5 113.7V116.4M474.2 115.1H476.9"/><path d="M477.4 114.3V117.0M476.1 115.7H478.8"/><path d="M479.7 115.1V117.8M478.3 116.5H481.0"/><path d="M481.9 117.0V119.7M480.5 118.3H483.2"/><path d="M484.0 119.0V121.7M482.7 120.3H485.4"/><path d="M485.7 121.6V124.3M484.3 123.0H487.0"/><path d="M487.9 124.1V126.8M486.5 125.5H489.2"/><path d="M489.5 126.5V129.2M488.2 127.9H490.9"/><path d="M489.8 128.3V131.0M488.5 129.7H491.2"/><path d="M490.7 131.5V134.2M489.4 132.8H492.1"/><path d="M491.7 133.4V136.1M490.3 134.8H493.0"/><path d="M493.2 135.7V138.4M491.8 137.1H494.5"/><path d="M494.5 137.6V140.3M493.2 139.0H495.9"/><path d="M495.6 140.5V143.2M494.3 141.8H497.0"/></g>
<g stroke="#e0103c" stroke-linecap="round"><line x1="338.3" y1="31.0" x2="341.0" y2="32.7" stroke-width="2.60"/><line x1="341.0" y1="32.7" x2="344.0" y2="34.1" stroke-width="2.60"/><line x1="344.0" y1="34.1" x2="347.0" y2="34.9" stroke-width="2.60"/><line x1="347.0" y1="34.9" x2="351.8" y2="36.1" stroke-width="2.60"/><line x1="351.8" y1="36.1" x2="355.7" y2="37.6" stroke-width="2.60"/><line x1="355.7" y1="37.6" x2="359.7" y2="39.2" stroke-width="2.60"/><line x1="359.7" y1="39.2" x2="363.6" y2="41.9" stroke-width="2.60"/><line x1="363.6" y1="41.9" x2="367.0" y2="43.7" stroke-width="2.60"/><line x1="367.0" y1="43.7" x2="370.0" y2="44.5" stroke-width="2.60"/><line x1="370.0" y1="44.5" x2="372.0" y2="45.3" stroke-width="2.60"/><line x1="372.0" y1="45.3" x2="374.0" y2="47.2" stroke-width="2.60"/><line x1="374.0" y1="47.2" x2="377.0" y2="48.4" stroke-width="2.60"/><line x1="377.0" y1="48.4" x2="380.0" y2="49.6" stroke-width="2.60"/><line x1="380.0" y1="49.6" x2="383.0" y2="50.8" stroke-width="2.60"/><line x1="383.0" y1="50.8" x2="386.0" y2="52.0" stroke-width="2.60"/><line x1="386.0" y1="52.0" x2="389.0" y2="54.0" stroke-width="2.60"/><line x1="389.0" y1="54.0" x2="391.0" y2="56.4" stroke-width="2.60"/><line x1="391.0" y1="56.4" x2="394.0" y2="58.2" stroke-width="2.60"/><line x1="394.0" y1="58.2" x2="397.0" y2="59.2" stroke-width="2.59"/><line x1="397.0" y1="59.2" x2="400.0" y2="61.1" stroke-width="2.53"/><line x1="400.0" y1="61.1" x2="402.0" y2="62.9" stroke-width="2.48"/><line x1="402.0" y1="62.9" x2="403.0" y2="64.4" stroke-width="2.45"/><line x1="403.0" y1="64.4" x2="405.0" y2="67.5" stroke-width="2.42"/><line x1="405.0" y1="67.5" x2="407.0" y2="69.5" stroke-width="2.38"/><line x1="407.0" y1="69.5" x2="410.0" y2="70.3" stroke-width="2.33"/><line x1="410.0" y1="70.3" x2="412.0" y2="71.9" stroke-width="2.30"/><line x1="412.0" y1="71.9" x2="415.0" y2="73.1" stroke-width="2.30"/><line x1="415.0" y1="73.1" x2="418.0" y2="75.9" stroke-width="2.30"/><line x1="418.0" y1="75.9" x2="420.0" y2="77.6" stroke-width="2.30"/><line x1="420.0" y1="77.6" x2="422.0" y2="80.4" stroke-width="2.30"/><line x1="422.0" y1="80.4" x2="424.0" y2="83.5" stroke-width="2.30"/><line x1="424.0" y1="83.5" x2="427.0" y2="86.3" stroke-width="2.30"/><line x1="427.0" y1="86.3" x2="430.0" y2="88.6" stroke-width="2.30"/><line x1="430.0" y1="88.6" x2="431.0" y2="90.5" stroke-width="2.30"/><line x1="431.0" y1="90.5" x2="433.0" y2="93.6" stroke-width="2.30"/><line x1="433.0" y1="93.6" x2="434.0" y2="96.0" stroke-width="2.30"/><line x1="434.0" y1="96.0" x2="436.0" y2="98.0" stroke-width="2.30"/><line x1="436.0" y1="98.0" x2="439.0" y2="99.5" stroke-width="2.30"/><line x1="439.0" y1="99.5" x2="441.0" y2="100.6" stroke-width="2.30"/><line x1="441.0" y1="100.6" x2="444.0" y2="103.6" stroke-width="2.30"/><line x1="444.0" y1="103.6" x2="446.0" y2="105.6" stroke-width="2.30"/><line x1="446.0" y1="105.6" x2="448.0" y2="107.8" stroke-width="2.30"/><line x1="448.0" y1="107.8" x2="450.0" y2="110.2" stroke-width="2.30"/><line x1="450.0" y1="110.2" x2="452.0" y2="112.8" stroke-width="2.30"/><line x1="452.0" y1="112.8" x2="455.0" y2="115.3" stroke-width="2.30"/><line x1="455.0" y1="115.3" x2="458.0" y2="117.3" stroke-width="2.30"/><line x1="458.0" y1="117.3" x2="460.0" y2="119.9" stroke-width="2.30"/><line x1="460.0" y1="119.9" x2="462.0" y2="122.3" stroke-width="2.30"/><line x1="462.0" y1="122.3" x2="464.0" y2="125.6" stroke-width="2.17" stroke-opacity="0.98"/><line x1="464.0" y1="125.6" x2="466.0" y2="128.4" stroke-width="1.91" stroke-opacity="0.94"/><line x1="466.0" y1="128.4" x2="468.0" y2="132.2" stroke-width="1.65" stroke-opacity="0.90"/><line x1="468.0" y1="132.2" x2="470.0" y2="132.7" stroke-width="1.39" stroke-opacity="0.86"/><line x1="470.0" y1="132.7" x2="472.0" y2="134.8" stroke-width="1.13" stroke-opacity="0.82"/><line x1="472.0" y1="134.8" x2="474.0" y2="137.6" stroke-width="1.00" stroke-opacity="0.80"/><line x1="474.0" y1="137.6" x2="476.0" y2="140.2" stroke-width="1.00" stroke-opacity="0.80"/><line x1="476.0" y1="140.2" x2="479.0" y2="140.0" stroke-width="1.00" stroke-opacity="0.80"/><line x1="479.0" y1="140.0" x2="481.0" y2="142.0" stroke-width="1.00" stroke-opacity="0.80"/><line x1="481.0" y1="142.0" x2="482.0" y2="143.6" stroke-width="1.00" stroke-opacity="0.80"/><line x1="482.0" y1="143.6" x2="484.0" y2="146.4" stroke-width="1.00" stroke-opacity="0.80"/><line x1="484.0" y1="146.4" x2="486.0" y2="149.3" stroke-width="1.00" stroke-opacity="0.80"/><line x1="486.0" y1="149.3" x2="488.0" y2="151.4" stroke-width="1.00" stroke-opacity="0.80"/><line x1="488.0" y1="151.4" x2="489.0" y2="153.0" stroke-width="1.00" stroke-opacity="0.80"/><line x1="489.0" y1="153.0" x2="490.0" y2="156.5" stroke-width="1.00" stroke-opacity="0.80"/><line x1="490.0" y1="156.5" x2="491.0" y2="161.5" stroke-width="1.00" stroke-opacity="0.80"/><line x1="491.0" y1="161.5" x2="492.5" y2="164.3" stroke-width="1.00" stroke-opacity="0.80"/><line x1="492.5" y1="164.3" x2="494.0" y2="167.2" stroke-width="1.00" stroke-opacity="0.80"/><line x1="494.0" y1="167.2" x2="495.7" y2="171.3" stroke-width="1.00" stroke-opacity="0.80"/></g>
<g stroke-opacity="0.8" stroke="#e0103c" stroke-width="1.0"><path d="M338.3 29.6V32.4M336.9 31.0H339.7"/><path d="M339.4 30.4V33.1M338.1 31.7H340.8"/><path d="M340.6 31.1V33.8M339.2 32.4H341.9"/><path d="M341.7 31.7V34.4M340.3 33.0H343.0"/><path d="M343.7 32.6V35.3M342.3 34.0H345.0"/><path d="M345.4 33.1V35.8M344.1 34.5H346.8"/><path d="M346.8 33.5V36.2M345.5 34.9H348.2"/><path d="M348.3 33.9V36.6M347.0 35.2H349.7"/><path d="M350.6 34.5V37.2M349.3 35.8H352.0"/><path d="M352.3 34.9V37.6M350.9 36.3H353.6"/><path d="M353.5 35.4V38.1M352.2 36.8H354.9"/><path d="M355.5 36.2V38.9M354.2 37.5H356.9"/><path d="M357.3 36.9V39.6M355.9 38.2H358.6"/><path d="M359.5 37.8V40.5M358.1 39.1H360.8"/><path d="M360.5 38.4V41.1M359.1 39.7H361.8"/><path d="M361.8 39.3V42.0M360.5 40.7H363.2"/><path d="M363.6 40.5V43.2M362.2 41.9H364.9"/><path d="M365.5 41.6V44.3M364.1 42.9H366.8"/><path d="M367.5 42.5V45.2M366.2 43.8H368.9"/><path d="M368.6 42.8V45.5M367.2 44.1H369.9"/><path d="M369.9 43.1V45.8M368.6 44.5H371.3"/><path d="M371.0 43.6V46.3M369.7 44.9H372.4"/><path d="M372.2 44.1V46.8M370.8 45.5H373.5"/><path d="M373.9 45.7V48.4M372.5 47.1H375.2"/><path d="M375.5 46.5V49.2M374.2 47.8H376.9"/><path d="M377.7 47.3V50.0M376.3 48.7H379.0"/><path d="M379.1 47.9V50.6M377.7 49.2H380.4"/><path d="M381.1 48.7V51.4M379.8 50.0H382.5"/><path d="M382.6 49.3V52.0M381.3 50.6H384.0"/><path d="M383.9 49.8V52.5M382.5 51.2H385.2"/><path d="M385.8 50.6V53.3M384.5 51.9H387.2"/><path d="M387.8 51.8V54.5M386.4 53.2H389.1"/><path d="M388.7 52.5V55.2M387.4 53.8H390.1"/><path d="M390.0 53.8V56.5M388.6 55.2H391.3"/><path d="M391.2 55.2V57.9M389.8 56.5H392.5"/><path d="M392.3 55.9V58.6M391.0 57.2H393.7"/><path d="M393.7 56.6V59.3M392.3 58.0H395.0"/><path d="M394.8 57.1V59.8M393.4 58.4H396.1"/><path d="M396.0 57.5V60.2M394.6 58.8H397.3"/><path d="M397.3 58.0V60.7M395.9 59.3H398.6"/><path d="M398.8 59.0V61.7M397.5 60.3H400.2"/><path d="M400.4 60.1V62.8M399.0 61.4H401.7"/><path d="M401.3 60.9V63.6M400.0 62.3H402.7"/><path d="M402.1 61.7V64.4M400.7 63.0H403.4"/><path d="M402.9 62.9V65.6M401.5 64.2H404.2"/><path d="M403.9 64.5V67.2M402.6 65.9H405.3"/><path d="M404.6 65.6V68.3M403.3 66.9H406.0"/><path d="M405.5 66.7V69.4M404.2 68.0H406.9"/><path d="M406.5 67.6V70.3M405.1 69.0H407.8"/><path d="M408.3 68.5V71.2M406.9 69.8H409.6"/><path d="M410.0 68.9V71.6M408.6 70.3H411.3"/><path d="M410.9 69.6V72.3M409.5 71.0H412.2"/><path d="M411.8 70.4V73.1M410.4 71.7H413.1"/><path d="M413.2 71.0V73.7M411.8 72.4H414.5"/><path d="M414.8 71.7V74.4M413.5 73.0H416.2"/><path d="M416.2 72.9V75.6M414.9 74.2H417.6"/><path d="M417.1 73.7V76.4M415.7 75.0H418.4"/><path d="M418.0 74.5V77.2M416.6 75.9H419.3"/><path d="M419.5 75.8V78.5M418.1 77.1H420.8"/><path d="M420.5 77.0V79.7M419.2 78.3H421.9"/><path d="M421.3 78.1V80.8M420.0 79.5H422.7"/><path d="M422.2 79.3V82.0M420.8 80.6H423.5"/><path d="M423.4 81.2V83.9M422.1 82.6H424.8"/><path d="M424.3 82.4V85.1M422.9 83.7H425.6"/><path d="M425.6 83.6V86.3M424.2 85.0H426.9"/><path d="M426.7 84.6V87.3M425.3 86.0H428.0"/><path d="M427.9 85.6V88.3M426.5 87.0H429.2"/><path d="M429.6 87.0V89.7M428.3 88.3H431.0"/><path d="M430.9 88.9V91.6M429.5 90.3H432.2"/><path d="M431.7 90.2V92.9M430.3 91.6H433.0"/><path d="M432.4 91.3V94.0M431.0 92.7H433.7"/><path d="M433.3 93.1V95.8M432.0 94.4H434.7"/><path d="M433.8 94.3V97.0M432.5 95.6H435.2"/><path d="M434.4 95.1V97.8M433.1 96.4H435.8"/><path d="M436.0 96.7V99.4M434.7 98.0H437.4"/><path d="M437.5 97.4V100.1M436.1 98.7H438.8"/><path d="M439.4 98.4V101.1M438.0 99.7H440.7"/><path d="M440.7 99.1V101.8M439.4 100.5H442.1"/><path d="M442.4 100.6V103.3M441.0 102.0H443.7"/><path d="M443.5 101.8V104.5M442.2 103.1H444.9"/><path d="M444.4 102.7V105.4M443.1 104.0H445.8"/><path d="M445.1 103.4V106.1M443.8 104.7H446.5"/><path d="M446.4 104.7V107.4M445.0 106.0H447.7"/><path d="M447.6 106.1V108.8M446.3 107.4H449.0"/><path d="M449.1 107.8V110.5M447.8 109.1H450.5"/><path d="M449.8 108.7V111.4M448.5 110.0H451.2"/><path d="M451.0 110.1V112.8M449.6 111.5H452.3"/><path d="M451.9 111.3V114.0M450.6 112.7H453.3"/><path d="M453.2 112.5V115.2M451.9 113.8H454.6"/><path d="M454.1 113.2V115.9M452.8 114.6H455.5"/><path d="M455.2 114.1V116.8M453.9 115.5H456.6"/><path d="M456.7 115.1V117.8M455.3 116.4H458.0"/><path d="M458.4 116.5V119.2M457.1 117.8H459.8"/><path d="M459.1 117.4V120.1M457.8 118.8H460.5"/><path d="M460.2 118.7V121.4M458.8 120.1H461.5"/><path d="M461.5 120.4V123.1M460.2 121.7H462.9"/><path d="M462.8 122.3V125.0M461.5 123.7H464.2"/><path d="M463.5 123.4V126.1M462.1 124.8H464.8"/><path d="M464.1 124.4V127.1M462.8 125.8H465.5"/><path d="M465.5 126.3V129.0M464.1 127.6H466.8"/><path d="M466.7 128.3V131.0M465.3 129.7H468.0"/><path d="M467.4 129.8V132.5M466.1 131.1H468.8"/><path d="M467.9 130.8V133.5M466.6 132.1H469.3"/><path d="M468.2 130.9V133.6M466.9 132.3H469.6"/><path d="M470.0 131.3V134.0M468.6 132.7H471.3"/><path d="M471.8 133.3V136.0M470.5 134.6H473.2"/><path d="M473.5 135.6V138.3M472.2 136.9H474.9"/><path d="M474.9 137.4V140.1M473.6 138.8H476.3"/><path d="M477.6 138.7V141.4M476.2 140.1H478.9"/><path d="M479.9 139.6V142.3M478.6 140.9H481.3"/><path d="M481.7 141.7V144.4M480.3 143.0H483.0"/><path d="M483.6 144.5V147.2M482.2 145.8H484.9"/><path d="M484.6 145.9V148.6M483.3 147.3H486.0"/><path d="M486.8 148.8V151.5M485.5 150.2H488.2"/><path d="M488.6 151.0V153.7M487.3 152.4H490.0"/><path d="M489.5 153.2V155.9M488.1 154.6H490.8"/><path d="M490.2 156.3V159.0M488.9 157.7H491.6"/><path d="M490.7 158.4V161.1M489.3 159.8H492.0"/><path d="M491.9 161.8V164.5M490.5 163.1H493.2"/><path d="M493.2 164.2V166.9M491.8 165.6H494.5"/><path d="M494.2 166.3V169.0M492.8 167.6H495.5"/><path d="M495.4 169.2V171.9M494.0 170.6H496.7"/></g>
<text x="51.8" y="115.9" class="lg" textLength="56.6" lengthAdjust="spacingAndGlyphs" fill="#1f78d0" stroke="#1f78d0">PCWP≤12 mmHg</text>
<text x="51.8" y="125.7" class="lg" textLength="56.6" lengthAdjust="spacingAndGlyphs" fill="#f41c28" stroke="#f41c28">PCWP&gt;12 mmHg</text>
<text x="337.2" y="117.8" class="lg" textLength="56.6" lengthAdjust="spacingAndGlyphs" fill="#1f78d0" stroke="#1f78d0">PCWP≤12 mmHg</text>
<text x="337.2" y="127.6" class="lg" textLength="56.6" lengthAdjust="spacingAndGlyphs" fill="#f41c28" stroke="#f41c28">PCWP&gt;12 mmHg</text>
<polyline points="220.0,100.4 222.3,100.4 222.3,130.3 220.0,130.3" fill="none" stroke="#777" stroke-width="0.9"/>
<text x="224.9" y="108.3" class="hr" textLength="30.0" lengthAdjust="spacingAndGlyphs">HR 1.729</text>
<text x="224.9" y="118.25" class="hr" textLength="39.7" lengthAdjust="spacingAndGlyphs">CI 1.32-2.26</text>
<text x="224.9" y="128.2" class="hr" textLength="26.5" lengthAdjust="spacingAndGlyphs">P&lt;0.001</text>
<polyline points="502.2,141.7 504.5,141.7 504.5,171.6 502.2,171.6" fill="none" stroke="#777" stroke-width="0.9"/>
<text x="506.9" y="152.1" class="hr" textLength="30.0" lengthAdjust="spacingAndGlyphs">HR 1.397</text>
<text x="506.9" y="162.05" class="hr" textLength="39.9" lengthAdjust="spacingAndGlyphs">CI 1.05-1.86</text>
<text x="506.9" y="172.0" class="hr" textLength="27.5" lengthAdjust="spacingAndGlyphs">P=0.022</text>
</svg>
</body></html>
